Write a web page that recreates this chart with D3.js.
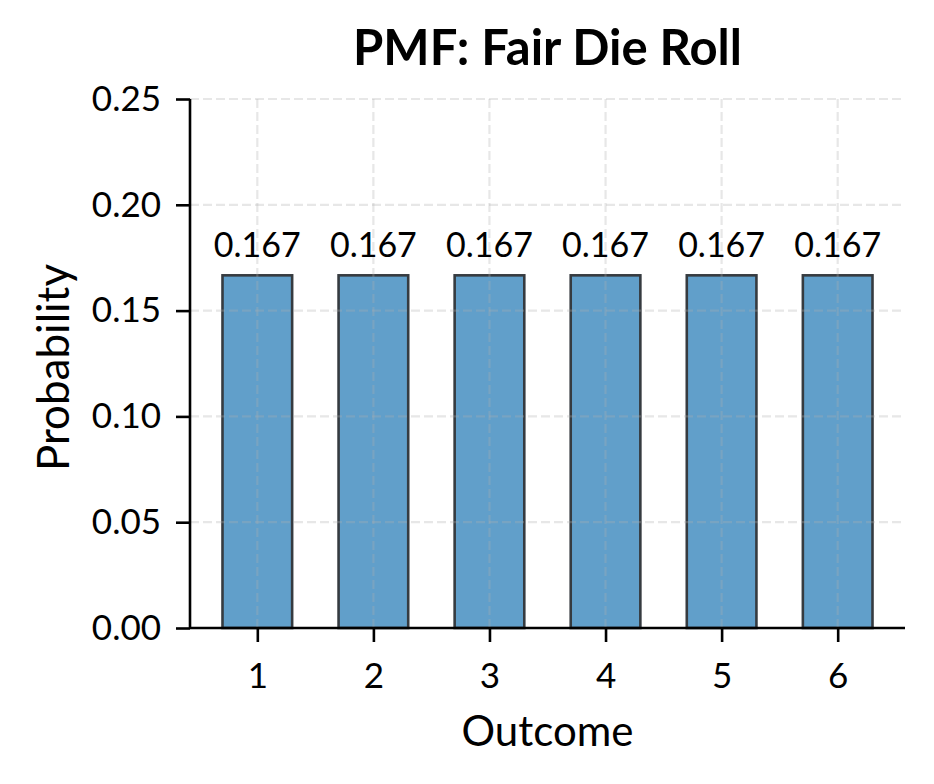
<!DOCTYPE html>
<html>
<head>
<meta charset="utf-8">
<script src="https://cdn.jsdelivr.net/npm/d3@7"></script>
<style>
  body { margin: 0; background: #fff; }
  svg { font-family: Lato, "Noto Sans", sans-serif; }
</style>
</head>
<body>
<div id="chart"></div>
<script>
// Data
const outcomes = [1, 2, 3, 4, 5, 6]
const probabilities = [1/6, 1/6, 1/6, 1/6, 1/6, 1/6]
const yTicks = [0, 0.05, 0.10, 0.15, 0.20, 0.25]

const width = 934
const height = 784
const margin = { top: 99, right: 29, bottom: 156, left: 190 }
const boundedWidth = width - margin.left - margin.right
const boundedHeight = height - margin.top - margin.bottom

const svg = d3.select("#chart")
  .append("svg")
  .attr("width", width)
  .attr("height", height)

const bounds = svg.append("g")
  .attr("transform", `translate(${margin.left},${margin.top})`)

// scales (matplotlib-style 5% margins around the bars)
const barW = 0.6
const xScale = d3.scaleLinear()
  .domain([1 - barW / 2 - 0.28, 6 + barW / 2 + 0.28])
  .range([0, boundedWidth])

const yScale = d3.scaleLinear()
  .domain([0, 0.25])
  .range([boundedHeight, 0])

// bars
bounds.selectAll("rect.bar")
  .data(outcomes)
  .join("rect")
  .attr("class", "bar")
  .attr("x", (d) => xScale(d - barW / 2))
  .attr("width", (d) => xScale(d + barW / 2) - xScale(d - barW / 2))
  .attr("y", (d, i) => yScale(probabilities[i]))
  .attr("height", (d, i) => boundedHeight - yScale(probabilities[i]))
  .attr("fill", "#619fca")
  .attr("stroke", "#363b40")
  .attr("stroke-width", 2.6)

// grid on top of bars
const grid = bounds.append("g")
grid.selectAll("line.gx")
  .data(outcomes)
  .join("line")
  .attr("x1", (d) => xScale(d))
  .attr("x2", (d) => xScale(d))
  .attr("y1", 0)
  .attr("y2", boundedHeight)
grid.selectAll("line.gy")
  .data(yTicks)
  .join("line")
  .attr("x1", 0)
  .attr("x2", boundedWidth)
  .attr("y1", (d) => yScale(d))
  .attr("y2", (d) => yScale(d))
grid.selectAll("line")
  .attr("stroke", "#b0b0b0")
  .attr("stroke-opacity", 0.3)
  .attr("stroke-width", 2.2)
  .attr("stroke-dasharray", "9,4")

// value labels
bounds.selectAll("text.val")
  .data(outcomes)
  .join("text")
  .attr("class", "val")
  .attr("x", (d) => xScale(d))
  .attr("y", (d, i) => yScale(probabilities[i]) - 18)
  .attr("text-anchor", "middle")
  .attr("font-size", 34)
  .text((d, i) => probabilities[i].toFixed(3))

// axes
const yAxis = bounds.append("g")
  .call(d3.axisLeft(yScale).tickValues(yTicks).tickFormat(d3.format(".2f")).tickSize(14).tickPadding(15))
const xAxis = bounds.append("g")
  .attr("transform", `translate(0,${boundedHeight})`)
  .call(d3.axisBottom(xScale).tickValues(outcomes).tickFormat(d3.format("d")).tickSize(14).tickPadding(21))

;[xAxis, yAxis].forEach((ax) => {
  ax.select(".domain").attr("stroke", "#000").attr("stroke-width", 2.6)
  ax.selectAll(".tick line").attr("stroke", "#000").attr("stroke-width", 2.6)
  ax.selectAll(".tick text").attr("font-size", 35).attr("fill", "#000").attr("font-family", "Lato, 'Noto Sans', sans-serif")
})
yAxis.select(".domain").attr("d", `M0,0V${boundedHeight}`)
xAxis.select(".domain").attr("d", `M0,0H${boundedWidth}`)

// labels
svg.append("text")
  .attr("x", margin.left + boundedWidth / 2)
  .attr("y", 65)
  .attr("text-anchor", "middle")
  .attr("font-size", 49)
  .attr("font-weight", "bold")
  .text("PMF: Fair Die Roll")

svg.append("text")
  .attr("x", margin.left + boundedWidth / 2)
  .attr("y", 746)
  .attr("text-anchor", "middle")
  .attr("font-size", 42)
  .text("Outcome")

svg.append("text")
  .attr("transform", `translate(69,${margin.top + boundedHeight / 2 + 4}) rotate(-90)`)
  .attr("text-anchor", "middle")
  .attr("font-size", 44)
  .text("Probability")
</script>
</body>
</html>
